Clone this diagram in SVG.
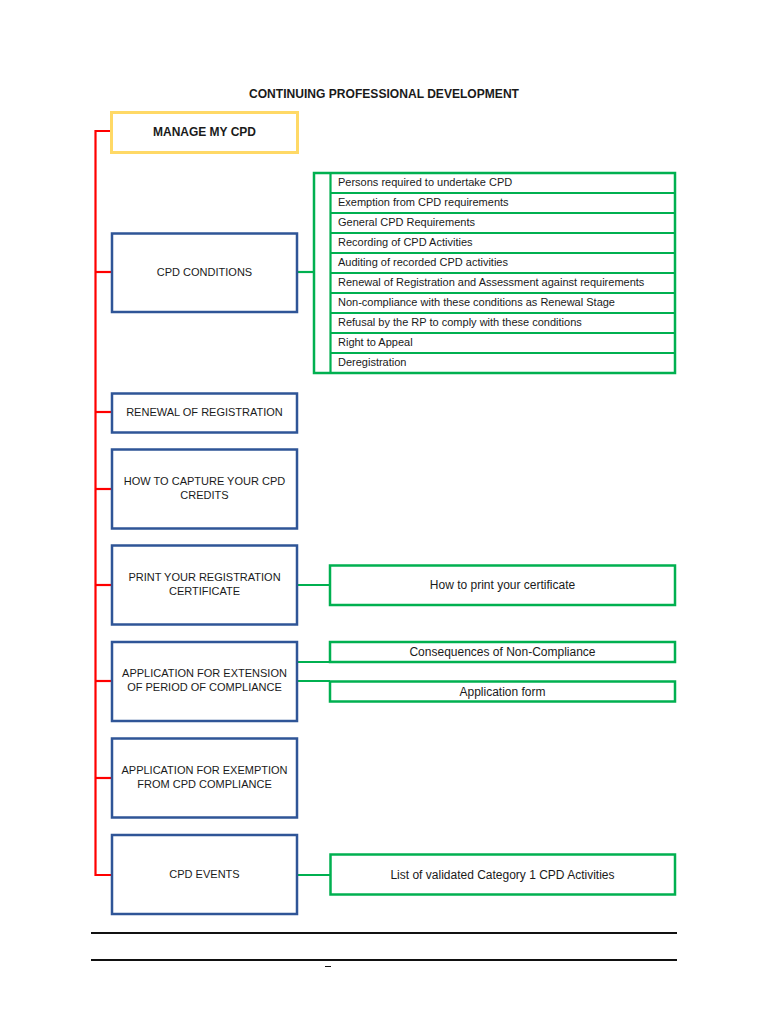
<svg xmlns="http://www.w3.org/2000/svg" width="768" height="1024" viewBox="0 0 768 1024">
<style>
text{font-family:"Liberation Sans",Arial,sans-serif;fill:#1a1a1a}
.t{font-size:11px}
.t2{font-size:12px}
.c{text-anchor:middle}
.blue{fill:#fff;stroke:#2f5597;stroke-width:2.5}
.grn{fill:#fff;stroke:#00b050;stroke-width:2.5}
.red{fill:none;stroke:#ff0000;stroke-width:2.2}
.gl{fill:none;stroke:#00b050;stroke-width:2.2}
.rule{stroke:#111;stroke-width:2}
</style>
<rect width="768" height="1024" fill="#fff"/>
<text x="384" y="98" class="c" font-size="12" font-weight="bold" textLength="270" lengthAdjust="spacingAndGlyphs">CONTINUING PROFESSIONAL DEVELOPMENT</text>

<g id="connectors">
<polyline class="red" points="111,131 95.5,131 95.5,875 112,875"/>
<line class="red" x1="95.5" y1="272" x2="112" y2="272"/>
<line class="red" x1="95.5" y1="412" x2="112" y2="412"/>
<line class="red" x1="95.5" y1="489" x2="112" y2="489"/>
<line class="red" x1="95.5" y1="585" x2="112" y2="585"/>
<line class="red" x1="95.5" y1="681" x2="112" y2="681"/>
<line class="red" x1="95.5" y1="778" x2="112" y2="778"/>
<line class="gl" x1="297" y1="272" x2="314" y2="272"/>
<line class="gl" x1="297" y1="585" x2="330" y2="585"/>
<line class="gl" x1="297" y1="662" x2="330" y2="662"/>
<line class="gl" x1="297" y1="681" x2="330" y2="681"/>
<line class="gl" x1="297" y1="875" x2="330" y2="875"/>
</g>

<g id="manage">
<rect x="111.5" y="112.5" width="186" height="40" fill="#fff" stroke="#ffd966" stroke-width="3"/>
<text x="204.5" y="136" class="c" font-size="12.5" font-weight="bold" textLength="103" lengthAdjust="spacingAndGlyphs">MANAGE MY CPD</text>
</g>

<g id="cpd-conditions">
<rect class="blue" x="112" y="233.5" width="185" height="78.5"/>
<text x="204.5" y="276" class="c t">CPD CONDITIONS</text>
</g>

<g id="conditions-list">
<rect class="grn" x="314" y="173" width="361" height="200"/>
<line class="gl" x1="330.5" y1="173" x2="330.5" y2="373"/>
<g class="gl">
<line x1="330.5" y1="193" x2="675" y2="193"/>
<line x1="330.5" y1="213" x2="675" y2="213"/>
<line x1="330.5" y1="233" x2="675" y2="233"/>
<line x1="330.5" y1="253" x2="675" y2="253"/>
<line x1="330.5" y1="273" x2="675" y2="273"/>
<line x1="330.5" y1="293" x2="675" y2="293"/>
<line x1="330.5" y1="313" x2="675" y2="313"/>
<line x1="330.5" y1="333" x2="675" y2="333"/>
<line x1="330.5" y1="353" x2="675" y2="353"/>
</g>
<text x="338" y="186" class="t">Persons required to undertake CPD</text>
<text x="338" y="206" class="t">Exemption from CPD requirements</text>
<text x="338" y="226" class="t">General CPD Requirements</text>
<text x="338" y="246" class="t">Recording of CPD Activities</text>
<text x="338" y="266" class="t">Auditing of recorded CPD activities</text>
<text x="338" y="286" class="t">Renewal of Registration and Assessment against requirements</text>
<text x="338" y="306" class="t">Non-compliance with these conditions as Renewal Stage</text>
<text x="338" y="326" class="t">Refusal by the RP to comply with these conditions</text>
<text x="338" y="346" class="t">Right to Appeal</text>
<text x="338" y="366" class="t">Deregistration</text>
</g>

<g id="renewal">
<rect class="blue" x="112" y="393.5" width="185" height="39"/>
<text x="204.5" y="416" class="c t">RENEWAL OF REGISTRATION</text>
</g>

<g id="capture">
<rect class="blue" x="112" y="449.5" width="185" height="79"/>
<text x="204.5" y="485" class="c t">HOW TO CAPTURE YOUR CPD</text>
<text x="204.5" y="499" class="c t">CREDITS</text>
</g>

<g id="print">
<rect class="blue" x="112" y="545.5" width="185" height="79"/>
<text x="204.5" y="581" class="c t">PRINT YOUR REGISTRATION</text>
<text x="204.5" y="595" class="c t">CERTIFICATE</text>
</g>

<g id="print-cert">
<rect class="grn" x="330" y="565.5" width="345" height="39.5"/>
<text x="502.5" y="588.5" class="c t2">How to print your certificate</text>
</g>

<g id="extension">
<rect class="blue" x="112" y="642" width="185" height="79"/>
<text x="204.5" y="677" class="c t">APPLICATION FOR EXTENSION</text>
<text x="204.5" y="691" class="c t">OF PERIOD OF COMPLIANCE</text>
</g>

<g id="consequences">
<rect class="grn" x="330" y="642" width="345" height="20"/>
<text x="502.5" y="655.5" class="c t2">Consequences of Non-Compliance</text>
</g>

<g id="app-form">
<rect class="grn" x="330" y="681.5" width="345" height="20"/>
<text x="502.5" y="695.5" class="c t2">Application form</text>
</g>

<g id="exemption">
<rect class="blue" x="112" y="738.5" width="185" height="79"/>
<text x="204.5" y="774" class="c t">APPLICATION FOR EXEMPTION</text>
<text x="204.5" y="788" class="c t">FROM CPD COMPLIANCE</text>
</g>

<g id="events">
<rect class="blue" x="112" y="835" width="185" height="79"/>
<text x="204.5" y="878" class="c t">CPD EVENTS</text>
</g>

<g id="events-list">
<rect class="grn" x="330.5" y="854.5" width="344.5" height="40"/>
<text x="502.5" y="878.5" class="c t2">List of validated Category 1 CPD Activities</text>
</g>

<line class="rule" x1="91" y1="933" x2="677" y2="933"/>
<line class="rule" x1="91" y1="960" x2="677" y2="960"/>
<line x1="325" y1="966.5" x2="331" y2="966.5" stroke="#111" stroke-width="1"/>
</svg>
